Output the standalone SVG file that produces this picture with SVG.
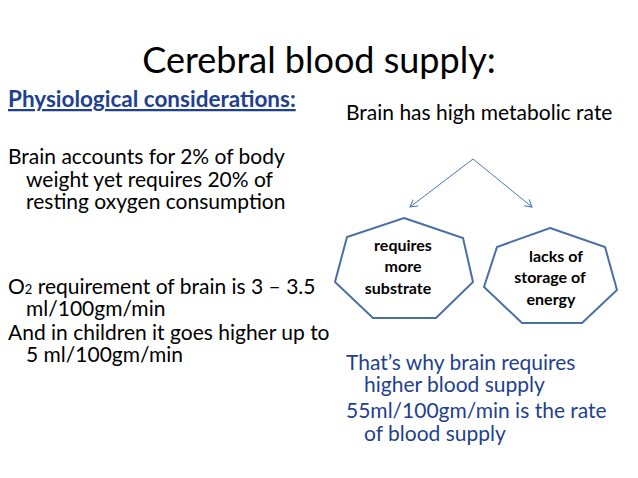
<svg xmlns="http://www.w3.org/2000/svg" width="638" height="478" viewBox="0 0 638 478">
<style>
text{font-family:Lato,"Liberation Sans",sans-serif;fill:#000}
.b{font-size:21px}
.blue{fill:#1f3f8f}
.h{fill:none;stroke:#4a6fa5;stroke-width:2}
.n{font-size:16px;font-weight:bold;text-anchor:middle}
</style>
<defs><marker id="a" markerWidth="10" markerHeight="10" refX="8" refY="5" orient="auto" markerUnits="userSpaceOnUse"><path d="M1,1 L8,5 L1,9" fill="none" stroke="#4a76b0" stroke-width="1"/></marker></defs>
<rect width="638" height="478" fill="#fff"/>
<text x="319" y="73" font-size="36" text-anchor="middle">Cerebral blood supply:</text>
<text x="8" y="107" font-size="22.5" font-weight="bold" class="blue" text-decoration="underline">Physiological considerations:</text>
<text x="346" y="120" class="b">Brain has high metabolic rate</text>
<g class="b">
<text x="8" y="164">Brain accounts for 2% of body</text>
<text x="26" y="187">weight yet requires 20% of</text>
<text x="26" y="209">resting oxygen consumption</text>
<text x="8" y="294">O<tspan font-size="13">2</tspan>  requirement of brain is 3 – 3.5</text>
<text x="26" y="316">ml/100gm/min</text>
<text x="8" y="340">And in children it goes higher up to</text>
<text x="26" y="362">5 ml/100gm/min</text>
</g>
<g class="b">
<text x="346" y="370" class="blue">That’s why brain requires</text>
<text x="364" y="392" class="blue">higher blood supply</text>
<text x="346" y="418" class="blue">55ml/100gm/min is the rate</text>
<text x="364" y="441" class="blue">of blood supply</text>
</g>
<g id="connectors" stroke="#4a76b0" stroke-width="1" fill="none">
<path d="M473,159 L410,207" marker-end="url(#a)"/>
<path d="M473,159 L532,207" marker-end="url(#a)"/>
</g>
<g id="n1"><polygon class="h" points="404,218 463,238 473,282 436,318 373,318 335,282 347,237"/>
<text class="n" x="403" y="251">requires</text><text class="n" x="403" y="272">more</text><text class="n" x="398" y="294">substrate</text></g>
<g id="n2"><polygon class="h" points="550,228 605,247 617,290 582,323 522,323 484,287 497,247"/>
<text class="n" x="556" y="262">lacks of</text><text class="n" x="550" y="283">storage of</text><text class="n" x="551" y="305">energy</text></g>
</svg>
